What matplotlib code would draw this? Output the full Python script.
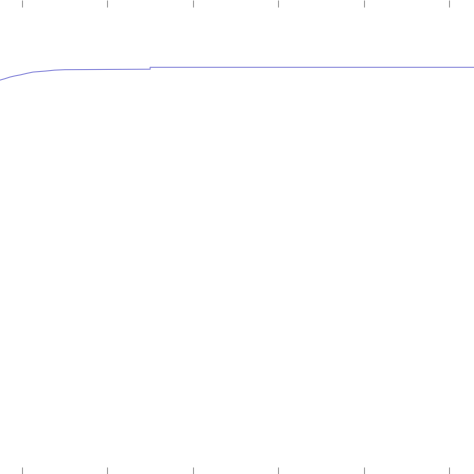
import matplotlib
matplotlib.use("Agg")
import matplotlib.pyplot as plt

# convergence curve
iteracao = [0.742, 0.80, 0.86, 0.92, 0.98, 1.05, 1.13, 1.20, 1.27, 1.38, 1.50, 2.50, 2.50, 6.30]
valor = [0.831, 0.834, 0.8375, 0.840, 0.842, 0.845, 0.848, 0.849, 0.850, 0.852, 0.853, 0.854, 0.858, 0.858]
ticks_x = [1, 2, 3, 4, 5, 6]

fig = plt.figure(figsize=(4.74, 4.74), dpi=100)
ax = fig.add_axes([0, 0, 1, 1])

ax.plot(iteracao, valor, color="#8c8cdc", lw=0.8)

ax.set_xlim(0.742, 6.292)
ax.set_ylim(0, 1)
ax.set_xticks(ticks_x)
ax.set_yticks([])
ax.tick_params(axis="x", direction="in", length=5, width=0.8, color="#a0a0a0",
               top=True, bottom=True, labelbottom=False, labeltop=False)
for s in ax.spines.values():
    s.set_visible(False)

fig.savefig("out.png", dpi=100)
